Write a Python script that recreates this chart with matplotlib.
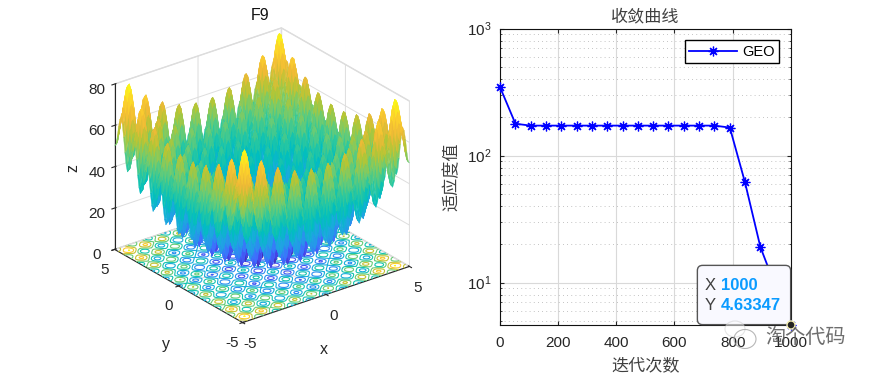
# ================================================================
# 0. Section: IMPORTS
# ================================================================
import numpy as np
import matplotlib
matplotlib.use("Agg")
from matplotlib import pyplot as plt
from matplotlib.colors import LinearSegmentedColormap
from matplotlib.patches import FancyBboxPatch, Ellipse


# ================================================================
# 1. Section: DATA
# ================================================================
# F9 height along one axis, x = 0.0, 0.1 ... 5.0 (mirrored for negative x)
PROFILE = [
    0.00, 1.92, 6.95, 13.18, 18.25, 20.25, 18.45, 13.58, 7.55, 2.72,
    1.00, 3.12, 8.35, 14.78, 20.05, 22.25, 20.65, 15.98, 10.15, 5.52,
    4.00, 6.32, 11.75, 18.38, 23.85, 26.25, 24.85, 20.38, 14.75, 10.32,
    9.00, 11.52, 17.15, 23.98, 29.65, 32.25, 31.05, 26.78, 21.35, 17.12,
    16.00, 18.72, 24.55, 31.58, 37.45, 40.25, 39.25, 35.18, 29.95, 25.92,
    25.00,
]
AXIS_STEP = 0.1

ITERATIONS = [1, 54, 106, 159, 211, 264, 316, 369, 422, 474,
              527, 579, 632, 685, 737, 790, 842, 895, 947, 1000]
FITNESS = [346, 178, 172, 172, 172, 172, 172, 172, 172, 172,
           172, 172, 172, 172, 172, 166, 61.6, 19, 9.3, 4.63347]

XY_TICKS = [-5, 0, 5]
Z_TICKS = [0, 20, 40, 60, 80]
X_TICKS = [0, 200, 400, 600, 800, 1000]
Y_TICKS = [10, 100, 1000]

PARULA = ["#3e26a8", "#4746eb", "#3e70ff", "#2797eb", "#1caadf", "#00bfbf",
          "#2bc8a0", "#6fcc72", "#b4c635", "#f0ba36", "#fdd22c", "#f9fb15"]
TEXT_COLOR = "#262626"


# ================================================================
# 2. Section: MAIN
# ================================================================
plt.rcParams["font.family"] = ["Liberation Sans", "Noto Sans CJK SC", "DejaVu Sans"]
plt.rcParams["font.size"] = 11
plt.rcParams["axes.unicode_minus"] = False
plt.rcParams["mathtext.default"] = "regular"

W, H = 875, 375
fig = plt.figure(figsize=(W / 100, H / 100), dpi=100)
parula = LinearSegmentedColormap.from_list("parula", PARULA)

# ──────────────────────────────────────────────────────
# 2.1 Subsection: Surface
# ──────────────────────────────────────────────────────
half = np.array(PROFILE)
line = np.concatenate([half[:0:-1], half])
grid = (np.arange(len(line)) - len(half) + 1) * AXIS_STEP
X, Y = np.meshgrid(grid, grid)
Z = line[None, :] + line[:, None]

ax3 = fig.add_axes([0.059, 0.05, 0.47, 0.94], projection="3d", proj_type="ortho")
ax3.view_init(elev=26, azim=-127.5)
ax3.set_box_aspect((1, 1, 0.875), zoom=0.963)
surf = ax3.plot_surface(X, Y, Z, cmap=parula, vmin=0, vmax=80, linewidth=0.25,
                        antialiased=True, rstride=1, cstride=1, shade=False)
surf.set_edgecolor("face")
ax3.contour(X, Y, Z, levels=8, zdir="z", offset=0, cmap=parula, vmin=0, vmax=80,
            linewidths=0.8)
ax3.set_xlim(-5, 5)
ax3.set_ylim(-5, 5)
ax3.set_zlim(0, 80)
ax3.set_xticks(XY_TICKS)
ax3.set_yticks(XY_TICKS)
ax3.set_zticks(Z_TICKS)
fig.text(324 / W, 1 - 349 / H, "x", fontsize=11.5, ha="center", va="center", color=TEXT_COLOR)
fig.text(166 / W, 1 - 345 / H, "y", fontsize=11.5, ha="center", va="center", color=TEXT_COLOR)
fig.text(73 / W, 1 - 168 / H, "z", fontsize=11.5, ha="center", va="center", rotation=90, color=TEXT_COLOR)
fig.text(260 / W, 1 - 15 / H, "F9", fontsize=11.5, ha="center", va="center", color="#111111")
ax3.tick_params(colors=TEXT_COLOR, labelsize=11, pad=0)
for axis in (ax3.xaxis, ax3.yaxis, ax3.zaxis):
    axis.set_pane_color((1, 1, 1, 1))
    axis.pane.set_edgecolor("#dddddd")
    axis.line.set_color(TEXT_COLOR)
    axis.line.set_linewidth(0.8)
    axis._axinfo["grid"].update(color="#dddddd", linewidth=0.7)

# ──────────────────────────────────────────────────────
# 2.2 Subsection: Convergence Curve
# ──────────────────────────────────────────────────────
ax = fig.add_axes([499.7 / W, 1 - 325 / H, 291.3 / W, 296.5 / H])
ax.semilogy(ITERATIONS, FITNESS, color="#0000ff", linewidth=1.3, marker=(8, 2, 0),
            markersize=7, markeredgewidth=0.9, label="GEO", clip_on=False, zorder=3)
ax.set_xlim(0, 1000)
ax.set_ylim(FITNESS[-1], 1000)
ax.set_xticks(X_TICKS)
ax.set_yticks(Y_TICKS)
ax.set_title("收敛曲线", fontsize=12.3, color="#404040", pad=5)
ax.set_xlabel("迭代次数", fontsize=12.3, color="#404040", labelpad=5)
ax.set_ylabel("适应度值", fontsize=12.3, color="#404040", labelpad=5)
ax.grid(True, which="major", color="#d9d9d9", linewidth=0.8)
ax.grid(True, which="minor", axis="y", color="#b0b0b0", linewidth=0.6, linestyle=(0, (1, 4)))
ax.tick_params(which="both", direction="in", top=True, right=True, colors=TEXT_COLOR,
               labelsize=11, length=3, pad=6)
ax.tick_params(axis="x", pad=8)
ax.tick_params(which="minor", length=1.5)
for spine in ax.spines.values():
    spine.set_linewidth(0.8)
    spine.set_color("#111111")
ax.legend(loc="upper right", bbox_to_anchor=(0.96, 0.96), borderaxespad=0, fancybox=False,
          edgecolor="black", framealpha=1, fontsize=10.5, handlelength=3.3, handletextpad=0.35,
          borderpad=0.3)

# ──────────────────────────────────────────────────────
# 2.3 Subsection: Data Tip And Watermark
# ──────────────────────────────────────────────────────
tip = FancyBboxPatch((700 / W, 1 - 322 / H), 88 / W, 54 / H, boxstyle="round,pad=0.003,rounding_size=0.006",
                     transform=fig.transFigure, facecolor="#f9f9ff", edgecolor="#555555",
                     linewidth=1, zorder=6, mutation_aspect=W / H)
fig.add_artist(tip)
fig.text(705 / W, 1 - 285 / H, "X", color="#404040", fontsize=12, va="center", zorder=7)
fig.text(721 / W, 1 - 285 / H, "1000", color="#0a9bff", fontsize=12, fontweight="bold", va="center", zorder=7)
fig.text(705 / W, 1 - 306 / H, "Y", color="#404040", fontsize=12, va="center", zorder=7)
fig.text(721 / W, 1 - 306 / H, "4.63347", color="#0a9bff", fontsize=12, fontweight="bold", va="center", zorder=7)

fig.add_artist(Ellipse((791 / W, 1 - 325 / H), 8 / W, 8 / H, transform=fig.transFigure,
                       facecolor="#222222", edgecolor="#f4eeb0", linewidth=1, zorder=8))
fig.add_artist(Ellipse((735 / W, 1 - 329 / H), 20 / W, 16 / H, transform=fig.transFigure,
                       facecolor="white", edgecolor="#cccccc", linewidth=0.8, alpha=0.5, zorder=8))
fig.add_artist(Ellipse((745 / W, 1 - 339 / H), 22 / W, 19 / H, transform=fig.transFigure,
                       facecolor="none", edgecolor="#999999", linewidth=0.8, alpha=0.7, zorder=8))
fig.text(765 / W, 1 - 337 / H, "淘个代码", color="#555555", fontsize=14.5, va="center", alpha=0.85, zorder=9)

fig.savefig("out.png", dpi=100)
